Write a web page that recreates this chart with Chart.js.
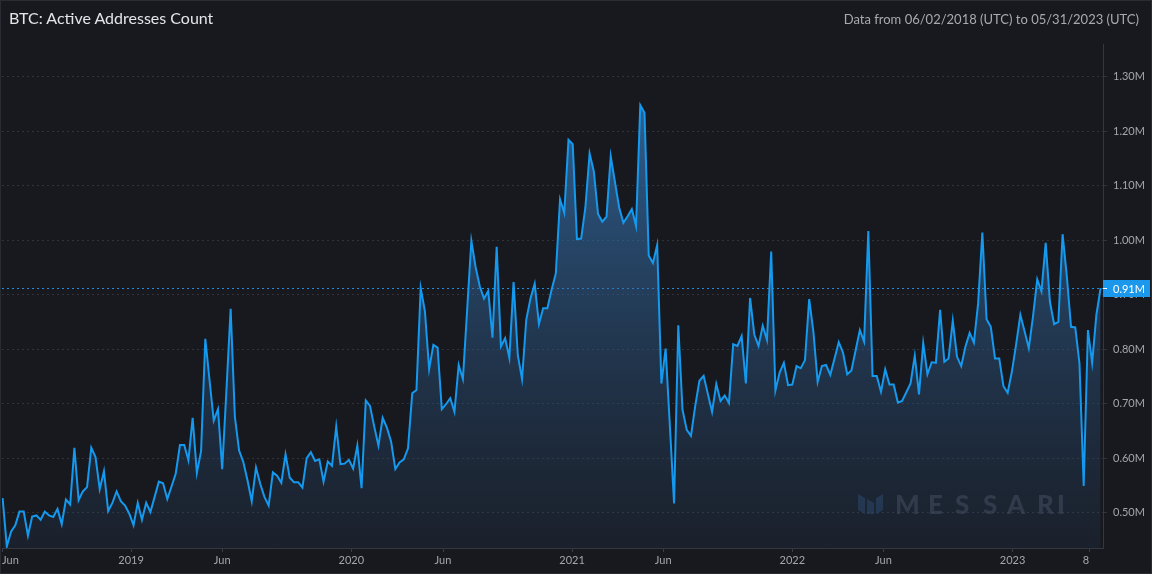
<!DOCTYPE html>
<html>
<head>
<meta charset="utf-8">
<title>BTC: Active Addresses Count</title>
<script src="https://cdn.jsdelivr.net/npm/chart.js@4.4.0/dist/chart.umd.min.js"></script>
<style>
  html, body { margin: 0; padding: 0; background: #18191e; }
  #wrap { position: relative; width: 1152px; height: 574px; overflow: hidden; background: #18191e; }
  #frame { position: absolute; left: 0; top: 0; width: 1152px; height: 574px; box-sizing: border-box; border: 1px solid #2a2c33; pointer-events: none; }
  #title { position: absolute; left: 9px; top: 8px; font: 16px Lato, sans-serif; color: #e4e5e9; }
  #range { position: absolute; right: 13px; top: 11px; font: 13px Lato, sans-serif; color: #a8aab1; }
  #chart { position: absolute; left: 0; top: 0; }
</style>
</head>
<body>
<div id="wrap">
  <canvas id="chart" width="1152" height="574"></canvas>
  <div id="title">BTC: Active Addresses Count</div>
  <div id="range">Data from 06/02/2018 (UTC) to 05/31/2023 (UTC)</div>
  <div id="frame"></div>
</div>
<script>
// Weekly active addresses (millions), first week starts 06/02/2018
const activeAddresses = [
  0.527, 0.438, 0.465, 0.477, 0.502, 0.502, 0.458, 0.493, 0.495, 0.487,
  0.502, 0.495, 0.492, 0.507, 0.479, 0.524, 0.515, 0.619, 0.523, 0.539,
  0.547, 0.619, 0.602, 0.543, 0.576, 0.503, 0.518, 0.539, 0.521, 0.513,
  0.498, 0.477, 0.518, 0.487, 0.518, 0.501, 0.529, 0.557, 0.554, 0.525,
  0.548, 0.572, 0.624, 0.624, 0.596, 0.674, 0.573, 0.613, 0.819, 0.743,
  0.669, 0.690, 0.580, 0.724, 0.874, 0.676, 0.614, 0.593, 0.559, 0.521,
  0.583, 0.553, 0.529, 0.513, 0.574, 0.568, 0.555, 0.607, 0.564, 0.556,
  0.556, 0.546, 0.600, 0.611, 0.595, 0.598, 0.557, 0.594, 0.586, 0.658,
  0.589, 0.590, 0.597, 0.581, 0.623, 0.545, 0.706, 0.696, 0.658, 0.623,
  0.674, 0.656, 0.630, 0.580, 0.592, 0.598, 0.618, 0.719, 0.725, 0.912,
  0.870, 0.763, 0.808, 0.803, 0.690, 0.699, 0.710, 0.685, 0.771, 0.745,
  0.872, 0.999, 0.951, 0.915, 0.893, 0.907, 0.821, 0.988, 0.805, 0.820,
  0.784, 0.923, 0.789, 0.745, 0.854, 0.893, 0.920, 0.846, 0.875, 0.875,
  0.909, 0.939, 1.075, 1.050, 1.184, 1.176, 1.002, 1.003, 1.060, 1.159,
  1.126, 1.048, 1.034, 1.043, 1.154, 1.107, 1.060, 1.032, 1.044, 1.057,
  1.026, 1.248, 1.234, 0.972, 0.958, 0.991, 0.737, 0.801, 0.660, 0.517,
  0.844, 0.689, 0.652, 0.641, 0.695, 0.742, 0.751, 0.718, 0.685, 0.736,
  0.705, 0.715, 0.701, 0.809, 0.806, 0.824, 0.737, 0.894, 0.827, 0.806,
  0.843, 0.817, 0.979, 0.724, 0.757, 0.775, 0.734, 0.735, 0.769, 0.765,
  0.780, 0.892, 0.832, 0.740, 0.769, 0.771, 0.753, 0.783, 0.813, 0.794,
  0.754, 0.761, 0.798, 0.835, 0.814, 1.017, 0.751, 0.751, 0.722, 0.763,
  0.735, 0.735, 0.702, 0.705, 0.721, 0.737, 0.788, 0.717, 0.811, 0.754,
  0.776, 0.775, 0.872, 0.777, 0.783, 0.852, 0.786, 0.769, 0.805, 0.830,
  0.812, 0.884, 1.014, 0.855, 0.841, 0.783, 0.783, 0.732, 0.720, 0.759,
  0.809, 0.863, 0.833, 0.802, 0.860, 0.928, 0.906, 0.995, 0.887, 0.846,
  0.850, 1.011, 0.934, 0.841, 0.840, 0.774, 0.549, 0.835, 0.775, 0.863,
  0.912
];

// x positions are days since 06/02/2018, one point per week
const weekDays = activeAddresses.map((v, i) => i * 7);

// x axis ticks (days since 06/02/2018) and their labels
const xTickDays = [-1, 213, 364, 578, 730, 944, 1095, 1309, 1460, 1674, 1801];
const xTickLabels = ['Jun', '2019', 'Jun', '2020', 'Jun', '2021', 'Jun', '2022', 'Jun', '2023', '8'];

// y axis ticks (millions)
const yTicks = [0.5, 0.6, 0.7, 0.8, 0.9, 1.0, 1.1, 1.2, 1.3];

const lastValue = activeAddresses[activeAddresses.length - 1];

// Blue dotted line + value box for the latest point
const lastValuePlugin = {
    id: 'lastValue',
    beforeDatasetsDraw(chart) {
        const { ctx, chartArea } = chart;
        const y = chart.scales.y.getPixelForValue(lastValue);
        ctx.save();
        ctx.strokeStyle = '#1d8fe0';
        ctx.lineWidth = 1;
        ctx.setLineDash([2, 3]);
        ctx.beginPath();
        ctx.moveTo(chartArea.left, Math.round(y) + 0.5);
        ctx.lineTo(chartArea.right, Math.round(y) + 0.5);
        ctx.stroke();
        ctx.restore();
    },
    afterDraw(chart) {
        const { ctx, chartArea } = chart;
        const y = Math.round(chart.scales.y.getPixelForValue(lastValue));
        ctx.save();
        ctx.fillStyle = '#1b97ec';
        ctx.fillRect(chartArea.right, y - 8, 47, 17);
        ctx.fillStyle = '#ffffff';
        ctx.fillRect(chartArea.right, y, 4, 1);
        ctx.font = '11px Lato, sans-serif';
        ctx.textBaseline = 'middle';
        ctx.fillText(lastValue.toFixed(2) + 'M', chartArea.right + 10, y + 1);
        ctx.restore();
    }
};

// Faint Messari watermark at the lower right
const watermarkPlugin = {
    id: 'watermark',
    afterDatasetsDraw(chart) {
        const { ctx } = chart;
        ctx.save();
        ctx.fillStyle = 'rgba(44, 72, 108, 0.55)';
        ctx.beginPath();
        ctx.moveTo(858, 494); ctx.lineTo(865, 498); ctx.lineTo(865, 514); ctx.lineTo(858, 510);
        ctx.closePath(); ctx.fill();
        ctx.beginPath();
        ctx.moveTo(867, 499); ctx.lineTo(874, 503); ctx.lineTo(874, 514); ctx.lineTo(867, 514);
        ctx.closePath(); ctx.fill();
        ctx.beginPath();
        ctx.moveTo(876, 498); ctx.lineTo(883, 494); ctx.lineTo(883, 510); ctx.lineTo(876, 514);
        ctx.closePath(); ctx.fill();

        ctx.fillStyle = 'rgba(70, 82, 102, 0.5)';
        ctx.font = '900 26px Lato, sans-serif';
        ctx.textBaseline = 'alphabetic';
        const letters = ['M', 'E', 'S', 'S', 'A', 'R', 'I'];
        const xs = [895, 928, 955, 983, 1007, 1037, 1057];
        letters.forEach((l, i) => ctx.fillText(l, xs[i], 514));
        ctx.restore();
    }
};

const ctx = document.getElementById('chart').getContext('2d');

new Chart(ctx, {
    type: 'line',
    data: {
        datasets: [{
            data: activeAddresses.map((v, i) => ({ x: weekDays[i], y: v })),
            borderColor: '#1599ee',
            borderWidth: 2,
            pointRadius: 0,
            tension: 0,
            fill: 'start',
            backgroundColor: (c) => {
                const area = c.chart.chartArea;
                if (!area) return 'transparent';
                const g = c.chart.ctx.createLinearGradient(0, area.top, 0, area.bottom);
                g.addColorStop(0, 'rgba(58, 132, 200, 0.78)');
                g.addColorStop(1, 'rgba(40, 70, 110, 0.18)');
                return g;
            }
        }]
    },
    options: {
        responsive: false,
        animation: false,
        layout: { autoPadding: false, padding: { left: 2, top: 44, right: 0, bottom: 0 } },
        plugins: {
            legend: { display: false },
            tooltip: { enabled: false }
        },
        scales: {
            x: {
                type: 'linear',
                min: -1,
                max: 1824,
                afterBuildTicks: (s) => { s.ticks = xTickDays.map(v => ({ value: v })); },
                afterFit: (s) => { s.height = 26; },
                grid: { drawOnChartArea: false, tickLength: 4, color: '#3a3d45' },
                border: { color: '#34373f' },
                ticks: {
                    autoSkip: false,
                    maxRotation: 0,
                    align: 'inner',
                    padding: 2,
                    color: '#a3a6ad',
                    font: { family: 'Lato', size: 11 },
                    callback: (v, i) => xTickLabels[i]
                }
            },
            y: {
                position: 'right',
                min: 0.4352,
                max: 1.36,
                afterBuildTicks: (s) => { s.ticks = yTicks.map(v => ({ value: v })); },
                afterFit: (s) => { s.width = 49; },
                grid: { color: '#30333a', tickLength: 4 },
                border: { color: '#34373f', dash: [2, 3] },
                ticks: {
                    padding: 6,
                    color: '#a3a6ad',
                    font: { family: 'Lato', size: 11 },
                    callback: (v) => v.toFixed(2) + 'M'
                }
            }
        }
    },
    plugins: [lastValuePlugin, watermarkPlugin]
});
</script>
</body>
</html>
